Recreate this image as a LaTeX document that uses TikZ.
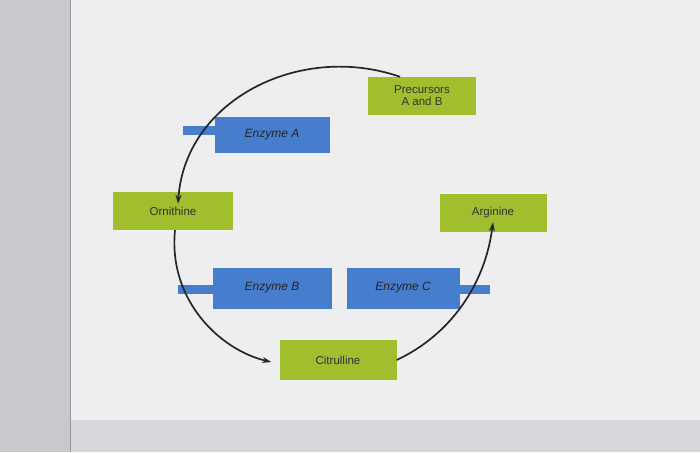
\documentclass[tikz,border=0pt]{standalone}
\usepackage{fontspec}
\setmainfont{Liberation Sans}
\usetikzlibrary{arrows.meta}
\definecolor{gbox}{RGB}{160,190,45}
\definecolor{bbox}{RGB}{70,125,205}
\definecolor{bgA}{RGB}{238,238,240}
\definecolor{bgL}{RGB}{200,200,205}
\definecolor{bgB}{RGB}{215,215,220}
\tikzset{
 gnode/.style={fill=gbox,text=black!80,font=\fontsize{11.5}{12}\selectfont,align=center,inner sep=0pt,minimum height=38pt},
 bnode/.style={fill=bbox,text=black!85,font=\itshape\fontsize{12}{13}\selectfont,inner sep=0pt,minimum height=38pt},
 bar/.style={fill=bbox},
 conn/.style={line width=1.7pt,black!85,-{Stealth[length=9pt,width=6pt]}}
}
\begin{document}
\begin{tikzpicture}[x=1pt,y=-1pt]
\useasboundingbox (0,0) rectangle (700,452);
\fill[bgA] (0,0) rectangle (700,452);
\fill[bgL] (0,0) rectangle (70,452);
\fill[bgB] (70,420) rectangle (700,452);
\draw[black!40] (70,0) -- (70,452);
\node[gnode,minimum width=108pt] (prec) at (422,96) {Precursors\\A and B};
\fill[bar] (183,126) rectangle (216,135);
\node[bnode,minimum width=115pt,minimum height=36pt] (ea) at (272,135) {Enzyme A};
\node[gnode,minimum width=120pt] (orn) at (173,211) {Ornithine};
\node[gnode,minimum width=107pt] (arg) at (493,213) {Arginine};
\fill[bar] (178,285) rectangle (214,294);
\node[bnode,minimum width=119pt,minimum height=41pt] (eb) at (272,288) {Enzyme B};
\fill[bar] (459,285) rectangle (490,294);
\node[bnode,minimum width=113pt,minimum height=41pt] (ec) at (403,288) {Enzyme C};
\node[gnode,minimum width=117pt,minimum height=40pt] (cit) at (338,360) {Citrulline};
\draw[conn] ([xshift=-22pt]prec.north) .. controls (300,42) and (185,100) .. ([xshift=5pt,yshift=-12pt]orn.north);
\draw[conn] ([xshift=2pt]orn.south) .. controls (168,300) and (220,350) .. ([xshift=-8pt,yshift=-2pt]cit.west);
\draw[conn] (cit.east) .. controls (450,335) and (485,285) .. ([yshift=10pt]arg.south);
\end{tikzpicture}
\end{document}
